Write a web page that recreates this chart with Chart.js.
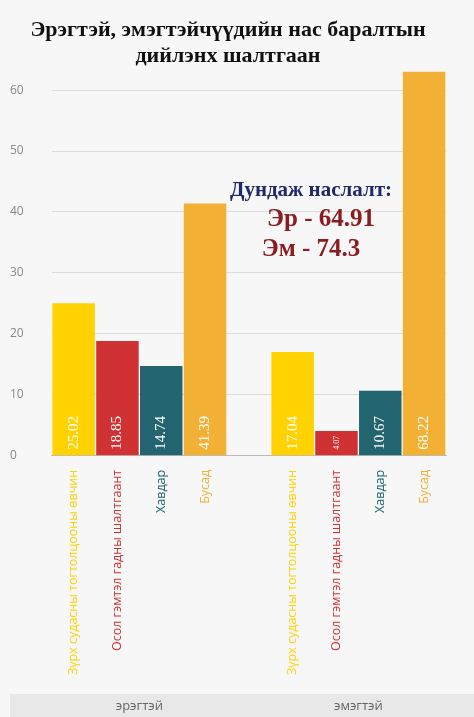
<!DOCTYPE html>
<html><head><meta charset="utf-8">
<script src="https://cdn.jsdelivr.net/npm/chart.js@4"></script>
<style>html,body{margin:0;padding:0;background:#f7f7f7}#w{width:474px;height:717px}</style>
</head><body><div id="w"><canvas id="c"></canvas></div>
<script>
const categories = ["Зүрх судасны тогтолцооны өвчин","Осол гэмтэл гадны шалтгаант","Хавдар","Бусад","","Зүрх судасны тогтолцооны өвчин","Осол гэмтэл гадны шалтгаант","Хавдар","Бусад"];
const values = [25.02,18.85,14.74,41.39,null,17.04,4.07,10.67,68.22];
const groups = ["эрэгтэй","эмэгтэй"];
const yTicks = [0,10,20,30,40,50,60];
const colorsBase = ["#ffd200","#d03234","#22646f","#f2b035"];
const colors = [...colorsBase,"#fff",...colorsBase];
const noteLines = ["Дундаж наслалт:","Эр - 64.91","Эм - 74.3"];

const deco = {
  id:'deco',
  afterDatasetsDraw(chart){
    const {ctx,chartArea:a,scales:{x,y}} = chart;
    const meta = chart.getDatasetMeta(0);
    ctx.save();
    meta.data.forEach((b,i)=>{
      if(values[i]==null) return;
      ctx.save();
      ctx.translate(b.x, y.getPixelForValue(0)-6);
      ctx.rotate(-Math.PI/2);
      ctx.fillStyle='#fff';
      ctx.textBaseline='middle';
      ctx.textAlign='left';
      ctx.font = values[i]<5 ? '8px "Liberation Serif"' : '15px "Liberation Serif"';
      ctx.fillText(values[i].toFixed(2),0,0);
      ctx.restore();
    });
    ctx.textAlign='center';
    ctx.textBaseline='alphabetic';
    ctx.font='bold 21px "Liberation Serif"';
    ctx.fillStyle='#1f2a6b';
    ctx.fillText(noteLines[0],311,196);
    ctx.font='bold 25px "Liberation Serif"';
    ctx.fillStyle='#8b1c22';
    ctx.fillText(noteLines[1],321,226);
    ctx.fillText(noteLines[2],311,256);
    ctx.fillStyle='#e8e8e8';
    ctx.fillRect(10,694,464,23);
    ctx.fillStyle='#666';
    ctx.font='13px "Open Sans"';
    ctx.textBaseline='middle';
    const m1=(meta.data[0].x+meta.data[3].x)/2, m2=(meta.data[5].x+meta.data[8].x)/2;
    ctx.fillText(groups[0],m1,706);
    ctx.fillText(groups[1],m2,706);
    ctx.restore();
  }
};

new Chart(document.getElementById('c'),{
  type:'bar',
  data:{labels:categories,datasets:[{data:values,backgroundColor:colors,barPercentage:0.97,categoryPercentage:1}]},
  options:{
    responsive:true,maintainAspectRatio:false,animation:false,
    layout:{padding:{left:10,right:28,top:0,bottom:36}},
    plugins:{legend:{display:false},tooltip:{enabled:false},
      title:{display:true,text:["Эрэгтэй, эмэгтэйчүүдийн нас баралтын","дийлэнх шалтгаан"],
        font:{family:'"Liberation Serif"',size:22,weight:'bold',lineHeight:1.2},color:'#111',padding:{top:17,bottom:2}}},
    scales:{
      y:{min:0,max:63,afterBuildTicks(s){s.ticks=yTicks.map(v=>({value:v}));},
        ticks:{color:'#888',font:{family:'"Open Sans"',size:12},padding:14,crossAlign:'far'},
        grid:{color:'#dcdcdc',drawTicks:false},border:{display:false}},
      x:{grid:{display:false},border:{color:'#bbb'},
        ticks:{minRotation:90,maxRotation:90,autoSkip:false,
          color:ctx=>colors[ctx.index],font:{family:'"Open Sans"',size:12.5},padding:6}}
    }
  },
  plugins:[deco]
});
</script></body></html>
